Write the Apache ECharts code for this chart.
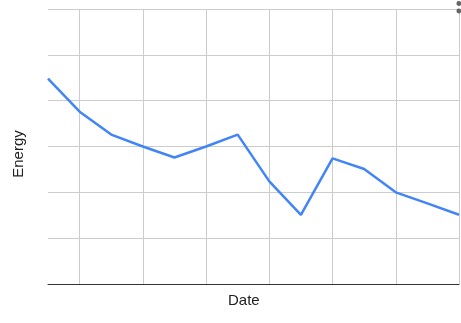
<!DOCTYPE html>
<html>
<head>
<meta charset="utf-8">
<script src="https://cdn.jsdelivr.net/npm/echarts@6/dist/echarts.min.js"></script>
<style>
html,body{margin:0;padding:0;background:#fff;}
#chart{width:461px;height:323px;}
</style>
</head>
<body>
<div id="chart"></div>
<script>
var dates = ['D1','D2','D3','D4','D5','D6','D7','D8','D9','D10','D11','D12','D13','D14'];
var energy = [4.48, 3.76, 3.26, 3.0, 2.76, 3.0, 3.26, 2.24, 1.51, 2.74, 2.51, 2.0, 1.76, 1.51];
var yMin = 0, yMax = 6, yStep = 1;
var xTitle = 'Date';
var yTitle = 'Energy';

var chart = echarts.init(document.getElementById('chart'), null, {renderer: 'canvas'});
chart.setOption({
  animation: false,
  grid: {left: 48, right: 2, top: 9, bottom: 39, containLabel: false},
  xAxis: {
    type: 'category',
    data: dates,
    boundaryGap: false,
    axisLine: {show: true, lineStyle: {color: '#333333', width: 1}},
    axisTick: {show: false},
    axisLabel: {show: false},
    splitLine: {show: true, interval: function (i) { return i % 2 === 1; }, lineStyle: {color: '#cccccc', width: 1}}
  },
  yAxis: {
    type: 'value',
    min: yMin, max: yMax, interval: yStep,
    axisLine: {show: false},
    axisTick: {show: false},
    axisLabel: {show: false},
    splitLine: {show: true, lineStyle: {color: '#cccccc', width: 1}}
  },
  series: [{
    type: 'line',
    data: energy,
    showSymbol: false,
    symbol: 'none',
    lineStyle: {color: '#4285F4', width: 2.5},
    itemStyle: {color: '#4285F4'}
  }],
  graphic: [
    {type: 'text', left: 228, top: 293, style: {text: xTitle, font: '15px "Liberation Sans", Arial, sans-serif', fill: '#222222'}},
    {type: 'text', x: 18.5, y: 154, rotation: Math.PI / 2, style: {text: yTitle, font: '15px "Liberation Sans", Arial, sans-serif', fill: '#222222', align: 'center', verticalAlign: 'middle'}},
    {type: 'circle', z: 100, shape: {cx: 458.8, cy: 3.5, r: 2.4}, style: {fill: '#666666'}},
    {type: 'circle', z: 100, shape: {cx: 458.8, cy: 11, r: 2.4}, style: {fill: '#666666'}}
  ]
});
</script>
</body>
</html>
